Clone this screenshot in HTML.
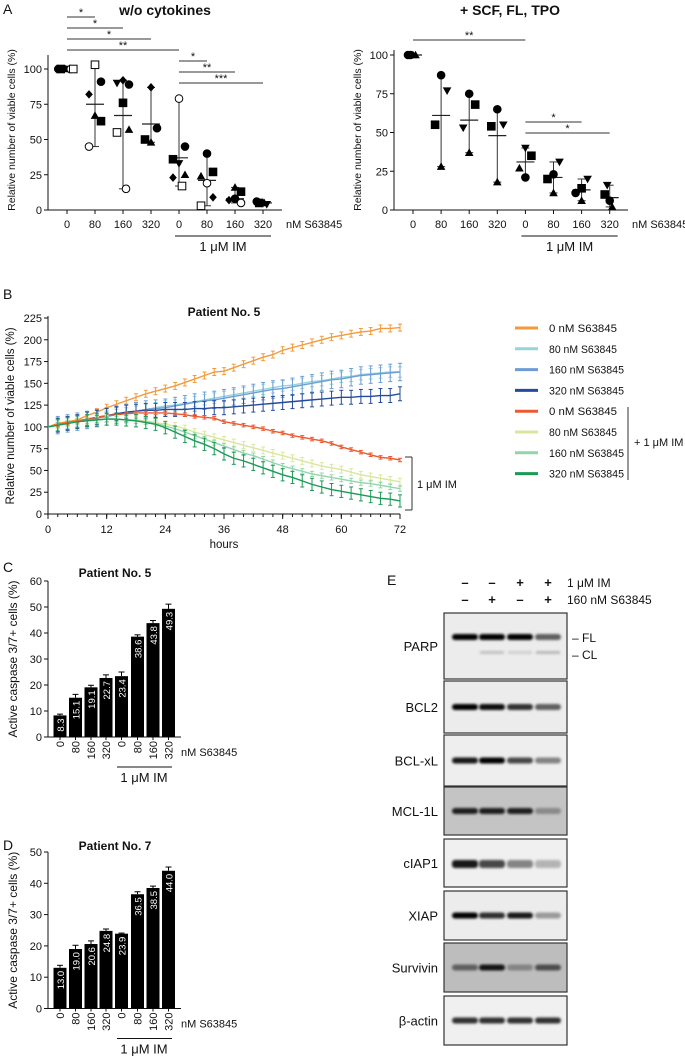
<!DOCTYPE html>
<html><head><meta charset="utf-8">
<style>
html,body{margin:0;padding:0;background:#fff;}
svg{display:block;font-family:"Liberation Sans",Arial,sans-serif;}
</style></head>
<body>
<svg id="fig" width="685" height="1059" viewBox="0 0 685 1059" xmlns="http://www.w3.org/2000/svg">
<defs>
<filter id="blur" x="-20%" y="-100%" width="140%" height="300%"><feGaussianBlur stdDeviation="1.2"/></filter>
</defs>
</svg>
<script>
// ---------- Panel A data ----------
var aCats = ["0","80","160","320","0","80","160","320"];
var aLeftShapes = [
 ["c","s","d","t","v","oc","os"],
 ["os","c","d","t","s","oc"],
 ["d","c","v","s","t","os","oc"],
 ["d","c","s","t"],
 ["oc","c","s","v","t","d","os"],
 ["c","s","t","oc","d","os"],
 ["t","s","d","c","oc"],
 ["c","s","d","t","v"]
];
var aLeftVals = [
 [100,100,100,100,100,100,100],
 [103,91,82,67,63,45],
 [92,89,90,76,57,55,15],
 [87,58,50,48],
 [79,45,36,33,25,23,17],
 [40,27,24,19,9,3],
 [16,13,7,8,5],
 [6,5,5,5,4]
];
var aLeftMeans = [100,75,67,61,37,21,8,5];
var aRightShapes = [
 ["c","c","t","t"],
 ["c","v","s","t"],
 ["c","s","v","t"],
 ["c","v","s","t"],
 ["v","s","t","c"],
 ["c","v","s","t"],
 ["s","v","c","t"],
 ["s","v","c","t"]
];
var aRightVals = [
 [100,100,100,100],
 [87,77,55,28],
 [75,68,53,37],
 [65,55,54,18],
 [40,35,27,21],
 [23,31,20,11],
 [14,20,11,6],
 [10,16,6,2]
];
var aRightMeans = [100,61,58,48,31,21,13,8];
var aYTicks = [0,25,50,75,100];

// ---------- Panel B data ----------
var bTimes = [0,2,4,6,8,10,12,14,16,18,20,22,24,26,28,30,32,34,36,38,40,42,44,46,48,50,52,54,56,58,60,62,64,66,68,70,72];
var bLabels = ["0 nM S63845","80 nM S63845","160 nM S63845","320 nM S63845","0 nM S63845","80 nM S63845","160 nM S63845","320 nM S63845"];
var bS0 = [100,104,106,108,113,117,122,126,130,134,138,141,144,147,151,155,159,163,164,168,172,176,180,183,188,191,194,197,200,203,205,207,209,210,213,213,214];
var bS1 = [100,102,104,106,108,110,112,114,116,118,120,122,124,125,127,129,131,133,135,137,139,141,143,145,147,148,150,152,153,155,157,158,160,161,162,163,163];
var bS2 = [100,102,104,106,108,110,112,114,116,118,120,121,122,124,126,128,130,131,133,135,137,139,141,143,144,146,148,150,152,154,155,157,159,160,161,162,163];
var bS3 = [100,102,104,106,109,111,113,115,117,118,119,119,120,120,120,121,121,122,122,123,124,125,126,127,128,129,130,131,132,133,134,134,135,135,136,136,138];
var bS4 = [100,103,105,107,109,111,113,114,115,116,116,116,116,115,114,112,111,110,106,104,102,100,98,95,93,90,88,86,84,81,77,74,71,68,65,64,62];
var bS5 = [100,102,104,106,107,108,109,109,108,108,107,105,103,101,98,94,91,88,85,82,79,76,73,70,67,64,61,58,55,53,51,48,45,43,41,39,37];
var bS6 = [100,102,104,106,107,108,109,109,108,107,106,104,101,98,94,90,86,82,78,74,70,67,63,59,55,52,49,46,44,42,40,38,36,35,33,31,29];
var bS7 = [100,102,104,106,107,108,109,109,108,107,105,103,99,94,89,84,80,75,69,64,61,57,53,49,45,42,38,34,31,28,26,24,22,20,18,17,15];
var bErr = [4,6,10,8,2,4,3,7];
var bYTicks = [0,25,50,75,100,125,150,175,200,225];
var bXTicks = [0,12,24,36,48,60,72];

// ---------- Panel C/D data ----------
var barCats = ["0","80","160","320","0","80","160","320"];
var cVals = [8.3,15.1,19.1,22.7,23.4,38.6,43.8,49.3];
var cErr = [0.5,1.3,0.8,1.2,1.6,0.7,1.0,1.8];
var cLabels = ["8.3","15.1","19.1","22.7","23.4","38.6","43.8","49.3"];
var dVals = [13.0,19.0,20.6,24.8,23.9,36.5,38.5,44.0];
var dErr = [0.8,1.2,1.0,0.6,0.2,0.8,0.6,1.2];
var dLabels = ["13.0","19.0","20.6","24.8","23.9","36.5","38.5","44.0"];
var cTicks = [0,10,20,30,40,50,60];
var dTicks = [0,10,20,30,40,50];

// ---------- Panel E data ----------
var eProteins = ["PARP","BCL2","BCL-xL","MCL-1L","cIAP1","XIAP","Survivin","β-actin"];
var eIntens = [
 [1,1,1,0.6],
 [1,0.95,0.8,0.6],
 [0.9,1,0.7,0.45],
 [0.85,0.85,0.85,0.3],
 [0.9,0.7,0.45,0.25],
 [1,0.8,0.9,0.35],
 [0.5,0.9,0.3,0.6],
 [0.8,0.8,0.8,0.8]
];
var eCleaved = [0,0.18,0.12,0.22];
var eIM = ["–","–","+","+"];
var eS6 = ["–","+","–","+"];

var NS = "http://www.w3.org/2000/svg";
var svg = document.getElementById("fig");
function mk(tag, attrs, parent, name, inter){
  var e = document.createElementNS(NS, tag);
  for (var k in attrs) e.setAttribute(k, attrs[k]);
  
  
  (parent || svg).appendChild(e);
  return e;
}
function txt(x,y,s,size,parent,name,extra){
  var a = {x:x,y:y,"font-size":size,fill:"#111"};
  if (extra) for (var k in extra) a[k]=extra[k];
  var t = mk("text",a,parent,name,false);
  t.textContent = s;
  return t;
}
function line(x1,y1,x2,y2,parent,name,stroke,w){
  return mk("line",{x1:x1,y1:y1,x2:x2,y2:y2,stroke:stroke||"#111","stroke-width":w||1},parent,name,false);
}
function marker(shape,x,y,parent){
  var r=3.8, g;
  if (shape==="c"||shape==="oc"){
    g = mk("circle",{cx:x,cy:y,r:r,fill:shape==="c"?"#000":"#fff",stroke:"#000","stroke-width":1},parent,"data-point",false);
  } else if (shape==="s"||shape==="os"){
    g = mk("rect",{x:x-r,y:y-r,width:2*r,height:2*r,fill:shape==="s"?"#000":"#fff",stroke:"#000","stroke-width":1},parent,"data-point",false);
  } else if (shape==="d"){
    g = mk("polygon",{points:(x)+","+(y-r-0.5)+" "+(x+r)+","+y+" "+x+","+(y+r+0.5)+" "+(x-r)+","+y,fill:"#000"},parent,"data-point",false);
  } else if (shape==="t"){
    g = mk("polygon",{points:x+","+(y-r-0.5)+" "+(x+r+0.5)+","+(y+r-0.5)+" "+(x-r-0.5)+","+(y+r-0.5),fill:"#000"},parent,"data-point",false);
  } else {
    g = mk("polygon",{points:x+","+(y+r+0.5)+" "+(x+r+0.5)+","+(y-r+0.5)+" "+(x-r-0.5)+","+(y-r+0.5),fill:"#000"},parent,"data-point",false);
  }
  return g;
}

// ---------- Panel A ----------
var jitter = [0,6,-6,0,6,-6,3];
function panelA(opt){
  var g = mk("g",{},svg,opt.name,false);
  var x0=opt.axisX, yTop=opt.yTop, yBot=210;
  function yA(v){ return yBot - v*(yBot-opt.y100)/100; }
  function xA(i){ return opt.firstX + i*opt.step; }
  line(x0,yTop,x0,yBot,g,"y-axis");
  line(x0,yBot,opt.axisEnd,yBot,g,"x-axis");
  aYTicks.forEach(function(v){
    line(x0-4,yA(v),x0,yA(v),g,"y-tick");
    txt(x0-6,yA(v)+4,String(v),11,g,"y-tick-label",{"text-anchor":"end"});
  });
  aCats.forEach(function(c,i){
    line(xA(i),yBot,xA(i),yBot+4,g,"x-tick");
    txt(xA(i),228,c,11,g,"x-tick-label",{"text-anchor":"middle"});
  });
  txt(opt.axisEnd+4,228,"nM S63845",11,g,"x-unit-label");
  line(xA(4)-4,236,xA(7)+8,236,g,"im-group-line");
  txt((xA(4)+xA(7))/2+2,251,"1 μM IM",13,g,"im-group-label",{"text-anchor":"middle"});
  txt(opt.yTitleX,130,"Relative number of viable cells (%)",10.5,g,"y-axis-title",{"text-anchor":"middle",transform:"rotate(-90 "+opt.yTitleX+" 130)"});
  txt(opt.titleX,15,opt.title,14,g,"chart-title",{"text-anchor":"middle","font-weight":"bold"});
  opt.vals.forEach(function(arr,i){
    var cx = xA(i);
    var mn = Math.min.apply(null,arr), mx = Math.max.apply(null,arr);
    var mean = opt.means[i];
    if (mx-mn>1){
      line(cx,yA(mx),cx,yA(mn),g,"range-bar","#333",1);
      line(cx-4,yA(mx),cx+4,yA(mx),g,"range-cap","#333",1);
      line(cx-4,yA(mn),cx+4,yA(mn),g,"range-cap","#333",1);
    }
    line(cx-9,yA(mean),cx+9,yA(mean),g,"mean-line","#222",1.2);
    arr.forEach(function(v,j){
      marker(opt.shapes[i][j], cx + (i===0||i===7 ? (j-arr.length/2)*2.5 : jitter[j%jitter.length]), yA(v), g);
    });
  });
  opt.sig.forEach(function(s){
    line(xA(s[0]),s[2],xA(s[1]),s[2],g,"significance-line","#333",1);
    txt((xA(s[0])+xA(s[1]))/2,s[2]-1,s[3],11,g,"significance-stars",{"text-anchor":"middle"});
  });
}
txt(3,14,"A",14,svg,"panel-label-a");
panelA({name:"panel-a-left",axisX:48,yTop:55,y100:69,firstX:67,step:28,axisEnd:282,yTitleX:15,titleX:165,title:"w/o cytokines",
  vals:aLeftVals,shapes:aLeftShapes,means:aLeftMeans,
  sig:[[0,1,17,"*"],[0,2,28,"*"],[0,3,39,"*"],[0,4,50,"**"],[4,5,61,"*"],[4,6,72,"**"],[4,7,83,"***"]]});
panelA({name:"panel-a-right",axisX:394,yTop:50,y100:55,firstX:413,step:28.1,axisEnd:628,yTitleX:361,titleX:510,title:"+ SCF, FL, TPO",
  vals:aRightVals,shapes:aRightShapes,means:aRightMeans,
  sig:[[0,4,40,"**"],[4,6,122,"*"],[4,7,133,"*"]]});

// ---------- Panel B ----------
(function(){
  var g = mk("g",{},svg,"panel-b",false);
  var series=[bS0,bS1,bS2,bS3,bS4,bS5,bS6,bS7];
  var colors=["#f39a3c","#93d5dd","#6e9dd4","#244b9b","#ee5a30","#d9e79e","#93d5ab","#1b9a56"];
  var y0=514, y225=318;
  function xB(t){ return 48 + t*(352/72); }
  function yB(v){ return y0 - v*((y0-y225)/225); }
  txt(3,299,"B",14,g,"panel-label-b");
  txt(224,316,"Patient No. 5",12,g,"chart-title",{"text-anchor":"middle","font-weight":"bold"});
  line(48,316,48,y0,g,"y-axis");
  line(48,y0,400,y0,g,"x-axis");
  bYTicks.forEach(function(v){
    line(44,yB(v),48,yB(v),g,"y-tick");
    txt(42,yB(v)+4,String(v),11,g,"y-tick-label",{"text-anchor":"end"});
  });
  bTimes.forEach(function(t){
    line(xB(t),y0,xB(t),y0+3,g,"x-minor-tick");
  });
  bXTicks.forEach(function(t){
    line(xB(t),y0,xB(t),y0+5,g,"x-tick");
    txt(xB(t),533,String(t),11,g,"x-tick-label",{"text-anchor":"middle"});
  });
  txt(224,548,"hours",11.5,g,"x-axis-title",{"text-anchor":"middle"});
  txt(14,416,"Relative number of viable cells (%)",11.5,g,"y-axis-title",{"text-anchor":"middle",transform:"rotate(-90 14 416)"});
  series.forEach(function(s,k){
    var sg = mk("g",{},g,"series-"+k,false);
    var pts = s.map(function(v,i){ return xB(bTimes[i])+","+yB(v); }).join(" ");
    s.forEach(function(v,i){
      if (i===0) return;
      var x=xB(bTimes[i]);
      line(x,yB(v+bErr[k]),x,yB(v-bErr[k]),sg,"error-bar",colors[k],1);
      line(x-2,yB(v+bErr[k]),x+2,yB(v+bErr[k]),sg,"error-cap",colors[k],1);
      line(x-2,yB(v-bErr[k]),x+2,yB(v-bErr[k]),sg,"error-cap",colors[k],1);
    });
    mk("polyline",{points:pts,fill:"none",stroke:colors[k],"stroke-width":1.4},sg,"series-line",false);
    var ly = 328 + k*20.8;
    line(515,ly,538,ly,g,"legend-swatch",colors[k],3);
    txt(549,ly+4,bLabels[k],11,g,"legend-entry",{textLength:bLabels[k].length>12?75:68,lengthAdjust:"spacingAndGlyphs"});
  });
  line(628,407,628,480,g,"legend-group-bracket","#333",1);
  txt(634,446,"+ 1 μM IM",11,g,"legend-group-label");
  line(405,457,412,457,g,"im-bracket-top","#333",1);
  line(412,457,412,510,g,"im-bracket","#333",1);
  line(405,510,412,510,g,"im-bracket-bottom","#333",1);
  txt(417,488,"1 μM IM",11,g,"im-bracket-label");
})();

// ---------- Panels C & D ----------
function barPanel(o){
  var g = mk("g",{},svg,o.name,false);
  function yC(v){ return o.y0 - v*(o.y0-o.yMax)/o.max; }
  var xs=[60,75.5,91,106,121.5,137.5,153,168.5];
  txt(3,o.labelY,o.letter,14,g,"panel-label");
  txt(115,o.titleY,o.title,12,g,"chart-title",{"text-anchor":"middle","font-weight":"bold"});
  line(48,o.yMax,48,o.y0,g,"y-axis");
  line(48,o.y0,181,o.y0,g,"x-axis");
  o.ticks.forEach(function(v){
    line(44,yC(v),48,yC(v),g,"y-tick");
    txt(42,yC(v)+4,String(v),11,g,"y-tick-label",{"text-anchor":"end"});
  });
  o.vals.forEach(function(v,i){
    var x=xs[i];
    mk("rect",{x:x-6.5,y:yC(v),width:13,height:o.y0-yC(v),fill:"#000"},g,"bar",false);
    var top=yC(v+o.err[i]);
    line(x,top,x,yC(v),g,"error-bar","#000",1);
    line(x-3,top,x+3,top,g,"error-cap","#000",1);
    var ty=yC(v)+3;
    txt(x+4,ty,o.labels[i],9.5,g,"bar-value-label",{fill:"#fff","text-anchor":"end",transform:"rotate(-90 "+(x+4)+" "+ty+")"});
    var lx=x+4, lyy=o.y0+4;
    line(x,o.y0,x,o.y0+3,g,"x-tick");
    txt(lx,lyy,barCats[i],11,g,"x-tick-label",{"text-anchor":"end",transform:"rotate(-90 "+lx+" "+lyy+")"});
  });
  txt(181,o.y0+19,"nM S63845",11,g,"x-unit-label");
  line(117,o.y0+30,172,o.y0+30,g,"im-group-line");
  txt(144,o.y0+45,"1 μM IM",13,g,"im-group-label",{"text-anchor":"middle"});
  txt(17,(o.y0+o.yMax)/2,"Active caspase 3/7+ cells (%)",12,g,"y-axis-title",{"text-anchor":"middle",transform:"rotate(-90 17 "+((o.y0+o.yMax)/2)+")"});
}
barPanel({name:"panel-c",letter:"C",labelY:572,title:"Patient No. 5",titleY:577,y0:737,yMax:581,max:60,ticks:cTicks,vals:cVals,err:cErr,labels:cLabels});
barPanel({name:"panel-d",letter:"D",labelY:850,title:"Patient No. 7",titleY:850,y0:1008.5,yMax:852,max:50,ticks:dTicks,vals:dVals,err:dErr,labels:dLabels});

// ---------- Panel E ----------
(function(){
  var g = mk("g",{},svg,"panel-e",false);
  var lanes=[465,492,520,548];
  var boxes=[[613,679],[681,733],[735,786],[787,835],[839,887],[891,940],[943,992],[996,1045]];
  var bg=["#ececec","#ececec","#eeeeee","#c4c4c4","#f0f0f0","#ececec","#bdbdbd","#f0f0f0"];
  txt(387,585,"E",14,g,"panel-label-e");
  eIM.forEach(function(s,i){ txt(lanes[i],587,s,13,g,"im-sign",{"text-anchor":"middle","font-weight":"bold"}); });
  eS6.forEach(function(s,i){ txt(lanes[i],604,s,13,g,"s63845-sign",{"text-anchor":"middle","font-weight":"bold"}); });
  txt(567,587,"1 μM IM",12,g,"im-condition-label");
  txt(567,604,"160 nM S63845",12,g,"s63845-condition-label");
  eProteins.forEach(function(p,k){
    var b=boxes[k];
    var bg_ = mk("g",{},g,"blot-"+p.toLowerCase(),false);
    mk("rect",{x:444,y:b[0],width:123,height:b[1]-b[0],fill:bg[k],stroke:"#333","stroke-width":1.2},bg_,"blot-box",false);
    var by = (k===0)? 637 : (b[0]+b[1])/2;
    txt(438,(b[0]+b[1])/2+5,p,13,bg_,"protein-label",{"text-anchor":"end"});
    eIntens[k].forEach(function(v,i){
      mk("rect",{x:lanes[i]-13,y:by-3,width:26,height:(k===4?8:6),rx:3,fill:"#000","fill-opacity":v,filter:"url(#blur)"},bg_,"band",false);
    });
    if (k===0){
      eCleaved.forEach(function(v,i){
        mk("rect",{x:lanes[i]-12,y:651,width:24,height:3,fill:"#000","fill-opacity":v,filter:"url(#blur)"},bg_,"cleaved-band",false);
      });
      txt(572,642,"– FL",12,bg_,"fl-label");
      txt(572,659,"– CL",12,bg_,"cl-label");
    }
  });
})();
</script>
</body></html>
